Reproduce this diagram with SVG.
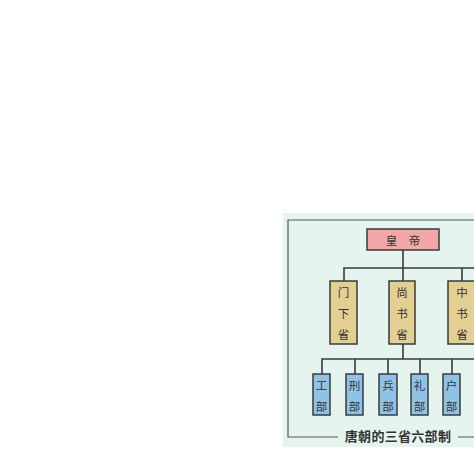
<svg xmlns="http://www.w3.org/2000/svg" width="474" height="454" viewBox="0 0 474 454">
<style>
.box{stroke:#3a3a3a;stroke-width:1.5}
.emp{fill:#f2a6a6}
.prov{fill:#e3cf92}
.min{fill:#8fc3e6}
.t{font-family:"Noto Sans CJK SC","Noto Sans CJK JP",sans-serif;font-size:11.5px;fill:#333;text-anchor:middle;dominant-baseline:central}
.ln{stroke:#3a3a3a;stroke-width:1.6;fill:none}
.title{font-family:"Noto Sans CJK SC",sans-serif;font-size:13px;font-weight:bold;fill:#333;text-anchor:middle;dominant-baseline:central;letter-spacing:0.3px}
</style>
<rect x="0" y="0" width="474" height="454" fill="#ffffff"/>
<rect x="283" y="213" width="191" height="234" fill="#e6f4ef"/>
<path d="M338 437 H288 V220 H474 M458 437 H474" stroke="#555" stroke-width="1.2" fill="none"/>
<text class="title" x="398" y="435">唐朝的三省六部制</text>
<g id="connectors">
<path class="ln" d="M403 250 V268 M344 281 V268 H474 M403 268 V281 M462 268 V281"/>
<path class="ln" d="M403 344 V359 M322 374 V359 H474 M355 359 V374 M388 359 V374 M420 359 V374 M452 359 V374"/>
</g>
<g id="emperor"><rect class="box emp" x="367" y="229" width="72" height="21"/><text class="t" x="403" y="239.5">皇　帝</text></g>
<g id="menxia"><rect class="box prov" x="330" y="281" width="27" height="63"/><text class="t" x="343.5" y="292">门</text><text class="t" x="343.5" y="313">下</text><text class="t" x="343.5" y="334">省</text></g>
<g id="shangshu"><rect class="box prov" x="389" y="281" width="26" height="63"/><text class="t" x="402" y="292">尚</text><text class="t" x="402" y="313">书</text><text class="t" x="402" y="334">省</text></g>
<g id="zhongshu"><rect class="box prov" x="448" y="281" width="28" height="63"/><text class="t" x="462" y="292">中</text><text class="t" x="462" y="313">书</text><text class="t" x="462" y="334">省</text></g>
<g id="gong"><rect class="box min" x="313" y="374" width="17" height="41"/><text class="t" x="321.5" y="385">工</text><text class="t" x="321.5" y="406">部</text></g>
<g id="xing"><rect class="box min" x="346" y="374" width="17" height="41"/><text class="t" x="354.5" y="385">刑</text><text class="t" x="354.5" y="406">部</text></g>
<g id="bing"><rect class="box min" x="379" y="374" width="18" height="41"/><text class="t" x="388" y="385">兵</text><text class="t" x="388" y="406">部</text></g>
<g id="li"><rect class="box min" x="411" y="374" width="17" height="41"/><text class="t" x="419.5" y="385">礼</text><text class="t" x="419.5" y="406">部</text></g>
<g id="hu"><rect class="box min" x="443" y="374" width="17" height="41"/><text class="t" x="451.5" y="385">户</text><text class="t" x="451.5" y="406">部</text></g>
</svg>
